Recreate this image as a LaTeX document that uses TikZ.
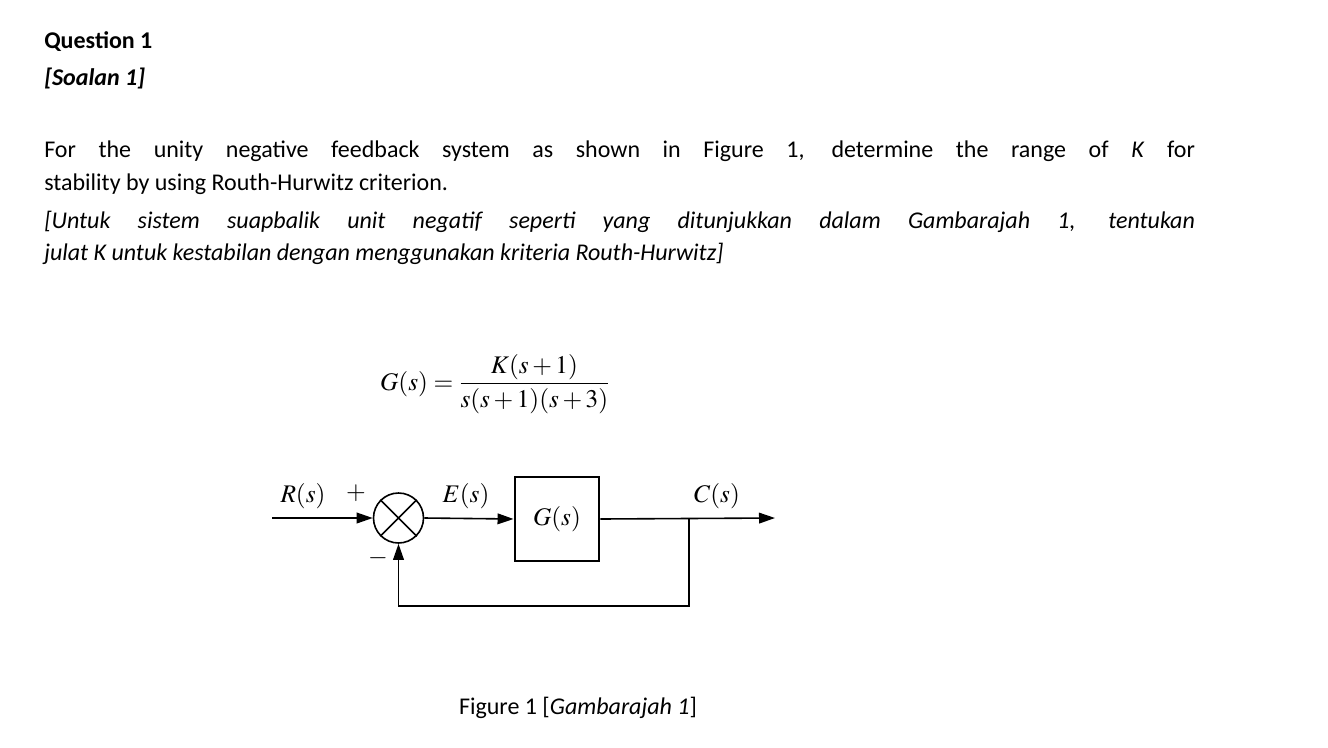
\documentclass[tikz,border=0pt]{standalone}
\usepackage{mathptmx}
\usepackage[no-math]{fontspec}
\setmainfont{Carlito}
\usetikzlibrary{arrows.meta}
\begin{document}
\begin{tikzpicture}[x=0.75pt,y=-0.75pt,
  txt/.style={anchor=west,inner sep=0,font=\fontsize{18}{22}\selectfont},
  mth/.style={inner sep=0,font=\fontsize{19}{22}\selectfont},
  sig/.style={line width=1.2pt},
  arr/.style={sig,-{Triangle[length=12pt,width=8pt]}}]
\useasboundingbox (0,0) rectangle (1328,747);
\node[txt] (q) at (44,42) {\textbf{Question 1}};
\node[txt] (qs) at (44,78) {\textbf{\textit{[Soalan 1]}}};
\node[txt] (l1) at (44,151) {\hbox to 863pt{For the unity negative feedback system as shown in Figure 1, determine the range of \textit{K} for}};
\node[txt] (l2) at (44,184) {stability by using Routh-Hurwitz criterion.};
\node[txt] (l3) at (44,222) {\hbox to 863pt{\itshape [Untuk sistem suapbalik unit negatif seperti yang ditunjukkan dalam Gambarajah 1, tentukan}};
\node[txt] (l4) at (44,254) {\itshape julat K untuk kestabilan dengan menggunakan kriteria Routh-Hurwitz]};
\node[mth] (eq) at (495,384) {$\displaystyle G(s)=\frac{K(s+1)}{s(s+1)(s+3)}$};
\node[draw,circle,line width=1.2pt,minimum size=37.5pt,inner sep=0] (sum) at (398.5,518) {};
\draw[line width=1.2pt] (sum.north west) -- (sum.south east) (sum.north east) -- (sum.south west);
\node[draw,line width=2.2pt,minimum width=63pt,minimum height=63pt,inner sep=0,mth] (G) at (557,519) {$G(s)$};
\coordinate (in) at (272,518);
\coordinate (out) at (775,518);
\coordinate (br) at (689,518);
\coordinate (bd) at (689,606);
\coordinate (bl) at (398.5,606);
\draw[arr] (in) -- (sum.west);
\draw[arr] (sum.east) -- (G.west);
\draw[arr] (G.east) -- (out);
\draw[arr] (br) -- (bd) -- (bl) -- (sum.south);
\node[mth] (R) at (303,496) {$R(s)$};
\node[mth] (pl) at (356,493) {$+$};
\node[mth] (mi) at (378,558) {$-$};
\node[mth] (E) at (466,496) {$E(s)$};
\node[mth] (C) at (717,496) {$C(s)$};
\node[txt,anchor=center] (cap) at (578,708) {Figure 1 [\textit{Gambarajah 1}]};
\end{tikzpicture}
\end{document}
